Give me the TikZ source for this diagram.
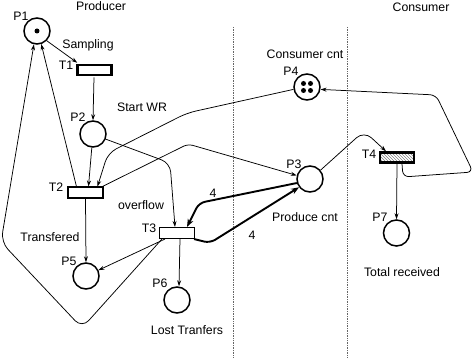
\documentclass[tikz,border=0pt]{standalone}
\usepackage{fontspec}
\setmainfont{Liberation Sans}
\usetikzlibrary{arrows.meta,patterns,calc}
\begin{document}
\begin{tikzpicture}[x=1pt,y=-1pt,
  place/.style={circle,draw,line width=1.5pt,minimum size=26pt,inner sep=0pt},
  trans/.style={rectangle,draw,line width=1.1pt,minimum width=35pt,minimum height=11pt,inner sep=0pt},
  bigtrans/.style={rectangle,draw,line width=2.5pt,minimum width=34pt,minimum height=10pt,inner sep=0pt},
  arc/.style={-{Stealth[length=6pt,width=4pt]},line width=0.75pt},
  heavyarc/.style={-{Stealth[length=8pt,width=6pt]},line width=1.9pt},
  lbl/.style={font=\fontsize{12.3}{14}\selectfont,inner sep=0pt},
  tok/.style={fill=black,circle,inner sep=0pt,minimum size=5pt},
  lane/.style={densely dotted,line width=0.7pt,black!60}]
\useasboundingbox (0,0) rectangle (474,358);
% lanes
\coordinate (L1a) at (233,27); \coordinate (L1b) at (233,358);
\coordinate (L2a) at (347,27); \coordinate (L2b) at (347,358);
\draw[lane] (L1a) -- (L1b);
\draw[lane] (L2a) -- (L2b);
% places
\node[place] (P1) at (37,31) {};
\node[tok] (P1t) at (P1) {};
\node[place] (P2) at (93,134) {};
\node[place] (P3) at (310,179) {};
\node[place] (P4) at (307,87) {};
\node[tok] (P4a) at (303.5,83.5) {};
\node[tok] (P4b) at (310.5,83.5) {};
\node[tok] (P4c) at (303.5,90.5) {};
\node[tok] (P4d) at (310.5,90.5) {};
\node[place] (P5) at (86,276) {};
\node[place] (P6) at (177,300) {};
\node[place] (P7) at (396.5,233) {};
% transitions
\node[bigtrans] (T1) at (94.5,70) {};
\node[trans] (T2) at (85.5,192.5) {};
\node[trans] (T3) at (177,233) {};
\node[bigtrans,pattern=north west lines,pattern color=gray] (T4) at (397,157.5) {};
% labels
\node[lbl] (lProd) at (101,6) {Producer};
\node[lbl] (lCons) at (421,7) {Consumer};
\node[lbl] (lSamp) at (88,45) {Sampling};
\node[lbl] (lT1) at (66,65) {T1};
\node[lbl] (lP1) at (21,16) {P1};
\node[lbl] (lP2) at (78,117) {P2};
\node[lbl] (lSWR) at (142,107) {Start WR};
\node[lbl] (lCc) at (305,54) {Consumer cnt};
\node[lbl] (lP4) at (291,71) {P4};
\node[lbl] (lT4) at (369,154) {T4};
\node[lbl] (lP3) at (294,164) {P3};
\node[lbl] (lT2) at (56,187) {T2};
\node[lbl] (lT3) at (149,228) {T3};
\node[lbl] (lOvf) at (141,205) {overflow};
\node[lbl] (lTr) at (50,237) {Transfered};
\node[lbl] (lP5) at (69,261) {P5};
\node[lbl] (lP6) at (160,283) {P6};
\node[lbl] (lLost) at (187,330) {Lost Tranfers};
\node[lbl] (lPc) at (305,217) {Produce cnt};
\node[lbl] (lP7) at (380,217) {P7};
\node[lbl] (lTot) at (402,272) {Total received};
\node[lbl] (l4a) at (213,193) {4};
\node[lbl] (l4b) at (252,235) {4};
% arcs
\draw[arc] (P1.-45) -- ($(T1.north west)+(1,-1)$);
\draw[arc] ($(T1.south)+(-0.5,1.2)$) -- (P2.north);
\draw[arc] (P2.-95) -- ($(T2.north)+(3,0)$);
\draw[arc] ($(T2.north west)+(9,0)$) -- (P1.-72);
\draw[arc,rounded corners=10pt] ($(T3.south west)+(3,0)$) -- (82,328) -- (1,242) -- (P1.-103);
\draw[arc,rounded corners=9pt] (P4.190) -- (187,113) -- (108,153) -- ($(T2.north)+(12,0)$);
\draw[arc,rounded corners=5pt] ($(T2.north east)+(-1,0)$) -- (188,144) -- (P3.165);
\draw[arc,rounded corners=9pt] (P2.-22) -- (170,163) -- ($(T3.north)+(-2,0)$);
\draw[heavyarc,rounded corners=6pt] (P3.197) -- (199,203) -- ($(T3.north)+(10,0)$);
\draw[heavyarc,rounded corners=6pt] ($(T3.south east)+(-1,0)$) -- (210,243) -- (P3.217);
\draw[arc] ($(T3.south west)+(6,0)$) -- (P5.25);
\draw[arc] ($(T3.south)+(3,0)$) -- ($(P6.north)+(2,0)$);
\draw[arc] (T2.south) -- (P5.north);
\draw[arc,rounded corners=10pt] (P3.40) -- (364,131) -- ($(T4.north)+(-11,0)$);
\draw[arc,rounded corners=6pt] ($(T4.south)+(5,0)$) -- (403,177) -- (473,172) -- (436,95) -- (P4.-10);
\draw[arc] (T4.south) -- (P7.north);
\end{tikzpicture}
\end{document}
